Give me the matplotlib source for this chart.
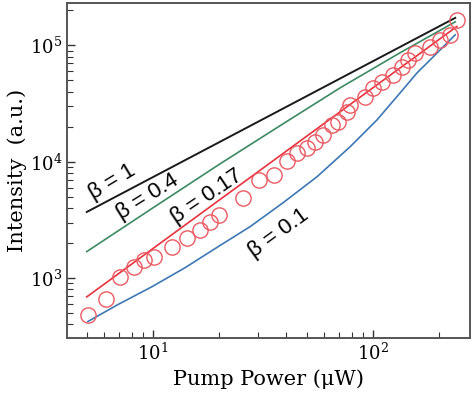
import numpy as np
import matplotlib
matplotlib.use('Agg')
import matplotlib.pyplot as plt

plt.rcParams['mathtext.fontset'] = 'dejavuserif'

# measured points (red circles)
pump = [5.07, 6.1, 7.08, 8.2, 9.1, 10.1, 12.2, 14.3, 16.4, 18.2, 20, 25.6, 30.3, 35.5,
        40.6, 45.2, 50.1, 54.5, 59.3, 65.2, 69.4, 76.2, 78.6, 92, 100, 110, 123, 135.5,
        144, 155, 182, 202, 224, 241]
intensity = [486, 667, 1030, 1256, 1443, 1530, 1862, 2230, 2610, 3060, 3500, 4910, 7000,
             7730, 10200, 11950, 13200, 14860, 17070, 20800, 22000, 26800, 30800, 36100,
             43100, 48600, 55800, 65300, 75100, 86300, 97000, 111000, 123000, 166000]

# fit through the data
fit_x = [5, 240]
fit_y = [690, 145000]

# model curves
b1_x = [5, 236]
b1_y = [3700, 172000]

b04_x = [5, 9.7, 20.2, 37.8, 70.8, 132.6, 236]
b04_y = [1690, 3870, 9610, 20400, 43100, 86300, 159000]

b01_x = [5.06, 6.93, 9.9, 14.0, 19.75, 27.6, 39.0, 55.6, 78.6, 104.2, 132.7, 158.5,
         187.5, 217, 236]
b01_y = [424, 593, 845, 1231, 1862, 2767, 4446, 7430, 13450, 22900, 39100, 58100,
         79600, 105000, 123000]

fig = plt.figure(figsize=(4.74, 3.96), dpi=100)
ax = fig.add_axes([0.141, 0.146, 0.851, 0.846])

ax.plot(b1_x, b1_y, color='#1a1a1a', lw=1.4)
ax.plot(b04_x, b04_y, color='#3b8a62', lw=1.2)
ax.plot(b01_x, b01_y, color='#3d78b5', lw=1.2)
ax.plot(fit_x, fit_y, color='#e8323c', lw=1.2)
ax.plot(pump, intensity, 'o', ms=11, mfc='none', mec='#ea5a62', mew=1.0)

ax.set_xscale('log')
ax.set_yscale('log')
ax.set_xlim(4.06, 276)
ax.set_ylim(305, 2.3e5)

for s in ax.spines.values():
    s.set_color('#555555')
    s.set_linewidth(1.4)
ax.tick_params(which='both', direction='in', top=False, right=False,
               color='#333333', labelsize=13)
ax.tick_params(which='major', length=6, width=1.0)
ax.tick_params(which='minor', length=4, width=0.8)
for lab in ax.get_xticklabels() + ax.get_yticklabels():
    lab.set_family('DejaVu Serif')

ax.set_xlabel('Pump Power (μW)', family='DejaVu Serif', fontsize=15)
ax.set_ylabel('Intensity  (a.u.)', family='DejaVu Serif', fontsize=15, labelpad=2)

lbl = dict(fontsize=16, family='Liberation Sans', ha='center', va='center',
           transform=ax.transAxes)
ax.text(0.112, 0.466, 'β = 1', rotation=31, **lbl)
ax.text(0.201, 0.421, 'β = 0.4', rotation=32, **lbl)
ax.text(0.347, 0.424, 'β = 0.17', rotation=34, **lbl)
ax.text(0.526, 0.313, 'β = 0.1', rotation=36, **lbl)

fig.savefig('out.png', dpi=100)
